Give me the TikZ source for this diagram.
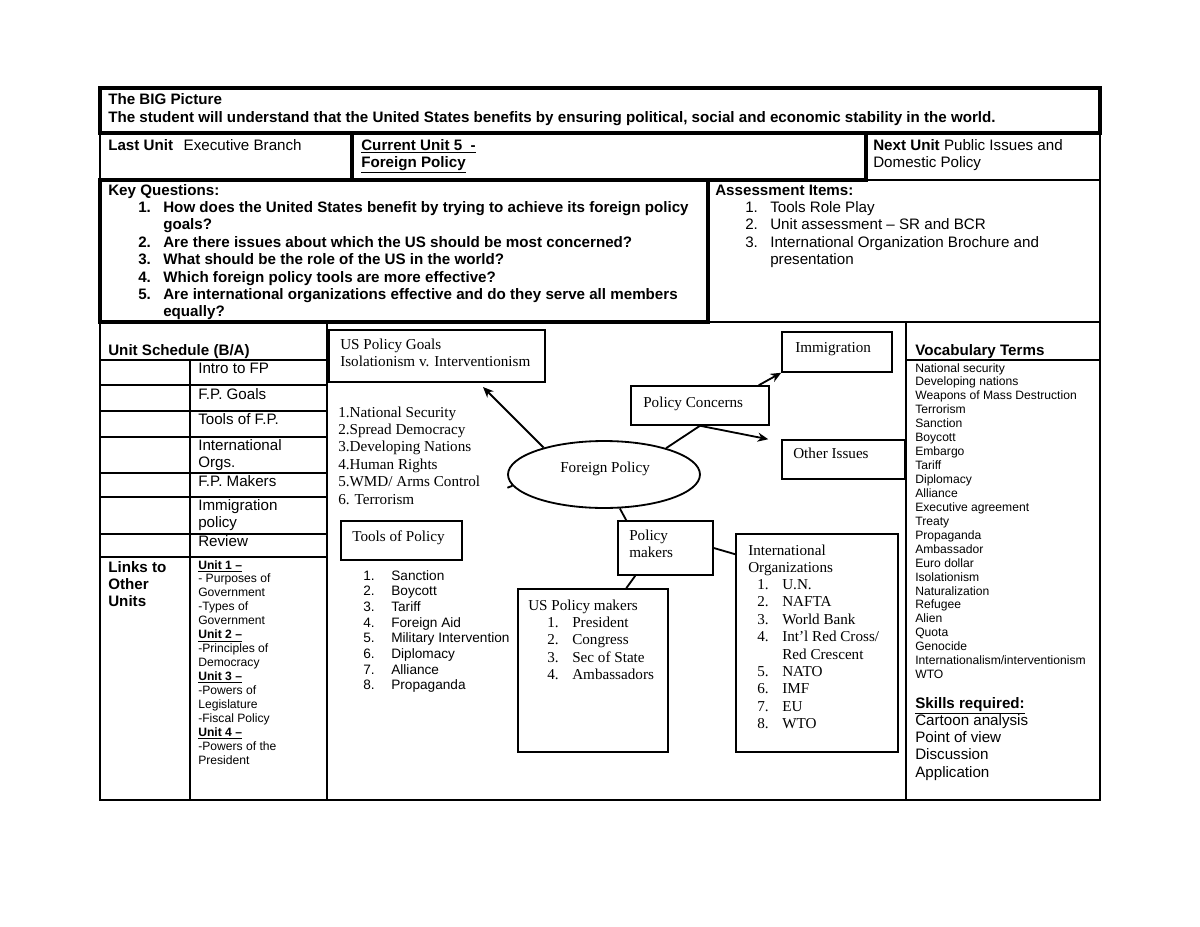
\documentclass[tikz,border=0pt]{standalone}
\usepackage{fontspec}
\setmainfont{Liberation Serif}
\setsansfont{Liberation Sans}
\usetikzlibrary{arrows.meta,calc,fit,shapes.geometric}

\newcommand{\numbox}[2][16.5pt]{\makebox[#1][l]{#2}}
\newcommand{\lines}[1]{\begin{tabular}[t]{@{}l@{}}#1\end{tabular}}

\tikzset{
  txt/.style={anchor=base west, inner sep=0pt},
  body/.style={txt, font=\sffamily\fontsize{10}{11.5}\selectfont},
  bodyb/.style={txt, font=\sffamily\bfseries\fontsize{10}{11.5}\selectfont},
  smalltxt/.style={txt, font=\sffamily\fontsize{8}{9.2}\selectfont},
  toolstxt/.style={txt, font=\sffamily\fontsize{9}{10.35}\selectfont},
  serif/.style={txt, font=\rmfamily\fontsize{10}{11.5}\selectfont},
  thin/.style={line width=0.7pt},
  heavy/.style={line width=2pt},
  mapbox/.style={draw, line width=1pt, inner sep=0pt},
  link/.style={line width=1.2pt},
  tip/.style={link, -{Stealth[length=7pt,width=6pt]}},
}

\begin{document}
\begin{tikzpicture}[x=0.66pt, y=-0.66pt]
  \useasboundingbox (0,0) rectangle (1200,927);

  % table frame
  \draw[heavy] (100,88) rectangle (1100,133);
  \draw[thin] (100,133) -- (100,180);
  \draw[thin] (866,133) -- (1100,133) -- (1100,322) -- (708,322);
  \draw[thin] (866,180) -- (1100,180);
  \draw[heavy] (352,133) rectangle (866,180);
  \draw[heavy] (100,180) rectangle (708,322);
  \draw[thin] (100,322) -- (100,800) -- (1100,800) -- (1100,322);
  \draw[thin] (190,360) -- (190,800);
  \draw[thin] (327,322) -- (327,800);
  \draw[thin] (906,322) -- (906,800);
  \draw[thin] (906,360) -- (1100,360);
  \foreach \y in {360,385,411,437,473,497,534,557}
    \draw[thin] (100,\y) -- (327,\y);

  % header rows
  \node[bodyb] (big) at (108,104) {The BIG Picture};
  \node[bodyb] (understand) at (108,122) {The student will understand that the United States benefits by ensuring political, social and economic stability in the world.};
  \node[body] (lastunit) at (108,150) {\textbf{Last Unit}\hspace{7pt}Executive Branch};
  \node[bodyb] (curunit) at (361,150) {\lines{\underline{Current Unit 5~~-}\\\underline{Foreign Policy}}};
  \node[body] (nextunit) at (873,150) {\lines{\textbf{Next Unit} Public Issues and\\Domestic Policy}};

  \node[bodyb] (keyq) at (108,195) {Key Questions:};
  \node[bodyb] (keylist) at (138,212.4) {\lines{\numbox{1.}How does the United States benefit by trying to achieve its foreign policy\\
    \numbox{}goals?\\
    \numbox{2.}Are there issues about which the US should be most concerned?\\
    \numbox{3.}What should be the role of the US in the world?\\
    \numbox{4.}Which foreign policy tools are more effective?\\
    \numbox{5.}Are international organizations effective and do they serve all members\\
    \numbox{}equally?}};
  \node[bodyb] (assess) at (715,195) {Assessment Items:};
  \node[body] (assesslist) at (745,212.4) {\lines{\numbox{1.}Tools Role Play\\
    \numbox{2.}Unit assessment -- SR and BCR\\
    \numbox{3.}International Organization Brochure and\\
    \numbox{}presentation}};

  % unit schedule
  \node[bodyb] (sched) at (108,355) {Unit Schedule (B/A)};
  \foreach \y/\t [count=\i] in {373/Intro to FP, 399/F.P. Goals, 424/Tools of F.P., 450/{\lines{International\\Orgs.}}, 486/F.P. Makers, 510/{\lines{Immigration\\policy}}, 546/Review}
    \node[body] (sch\i) at (198,\y) {\t};
  \node[bodyb] (links) at (108,572) {\lines{Links to\\Other\\Units}};
  \node[smalltxt] (unitlinks) at (198,569) {\lines{\textbf{\underline{Unit 1 --}}\\- Purposes of\\Government\\-Types of\\Government\\
    \textbf{\underline{Unit 2 --}}\\-Principles of\\Democracy\\
    \textbf{\underline{Unit 3 --}}\\-Powers of\\Legislature\\-Fiscal Policy\\
    \textbf{\underline{Unit 4 --}}\\-Powers of the\\President}};

  % vocabulary and skills
  \node[bodyb] (vocab) at (915,355) {Vocabulary Terms};
  \node[smalltxt] (vocablist) at (915,372) {\lines{National security\\Developing nations\\Weapons of Mass Destruction\\Terrorism\\Sanction\\Boycott\\Embargo\\Tariff\\Diplomacy\\Alliance\\Executive agreement\\Treaty\\Propaganda\\Ambassador\\Euro dollar\\Isolationism\\Naturalization\\Refugee\\Alien\\Quota\\Genocide\\Internationalism/interventionism\\WTO}};
  \node[bodyb] (skills) at (915,708) {\underline{Skills required:}};
  \node[body] (skilllist) at (915,725) {\lines{Cartoon analysis\\Point of view\\Discussion\\Application}};

  % concept map
  \node[mapbox, fit={(329,330) (545,382)}] (goals) {};
  \node[serif] (goalstext) at (340,349) {\lines{US Policy Goals\\Isolationism v. Interventionism}};
  \node[serif] (goalslist) at (338,417) {\lines{1.National Security\\2.Spread Democracy\\3.Developing Nations\\4.Human Rights\\5.WMD/ Arms Control\\6. Terrorism}};

  \node[ellipse, draw, line width=1.2pt, inner sep=0pt, minimum width=126.7pt, minimum height=44.2pt] (fp) at (604,474.5) {};
  \node[serif] (fptext) at (560,472) {Foreign Policy};

  \node[mapbox, fit={(631,386) (769,425)}] (pc) {};
  \node[serif] (pctext) at (643,407) {Policy Concerns};
  \node[mapbox, fit={(782,332) (892,372)}] (imm) {};
  \node[serif] (immtext) at (795,352) {Immigration};
  \node[mapbox, fit={(782,440) (905,479)}] (oth) {};
  \node[serif] (othtext) at (793,458) {Other Issues};

  \node[mapbox, fit={(618,521) (713,575)}] (pm) {};
  \node[serif] (pmtext) at (629,540) {\lines{Policy\\makers}};
  \node[mapbox, fit={(736,534) (898,752)}] (io) {};
  \node[serif] (iotext) at (748,555) {\lines{International\\Organizations}};
  \node[serif] (iolist) at (757,589.4) {\lines{\numbox{1.}U.N.\\\numbox{2.}NAFTA\\\numbox{3.}World Bank\\\numbox{4.}Int'l Red Cross/\\\numbox{}Red Crescent\\\numbox{5.}NATO\\\numbox{6.}IMF\\\numbox{7.}EU\\\numbox{8.}WTO}};
  \node[mapbox, fit={(518,589) (668,752)}] (uspm) {};
  \node[serif] (uspmtext) at (528,610) {US Policy makers};
  \node[serif] (uspmlist) at (547,627.4) {\lines{\numbox{1.}President\\\numbox{2.}Congress\\\numbox{3.}Sec of State\\\numbox{4.}Ambassadors}};

  \node[mapbox, fit={(341,521) (462,560)}] (toolsbox) {};
  \node[serif] (toolstext) at (352,541) {Tools of Policy};
  \node[toolstxt] (toolslist) at (363,580) {\lines{\numbox[18.5pt]{1.}Sanction\\\numbox[18.5pt]{2.}Boycott\\\numbox[18.5pt]{3.}Tariff\\\numbox[18.5pt]{4.}Foreign Aid\\\numbox[18.5pt]{5.}Military Intervention\\\numbox[18.5pt]{6.}Diplomacy\\\numbox[18.5pt]{7.}Alliance\\\numbox[18.5pt]{8.}Propaganda}};

  % connectors
  \coordinate (goalstip) at (483,387);
  \draw[tip] (fp.156) -- (goalstip);
  \draw[link] (fp.23) -- (pc.south);
  \draw[tip] ($(pc.north east)+(-11,0)$) -- (imm.south west);
  \draw[tip] (pc.south) -- ($(oth.north west)+(-13,0)$);
  \draw[link] (fp.295) -- ($(pm.north west)+(9,0)$);
  \draw[link] (pm.east) -- ($(io.north west)+(0,21)$);
  \draw[link] ($(pm.south west)+(18,0)$) -- ($(uspm.north west)+(109,0)$);
  \draw[link] (fp.187) -- +(-5,2);
\end{tikzpicture}
\end{document}
